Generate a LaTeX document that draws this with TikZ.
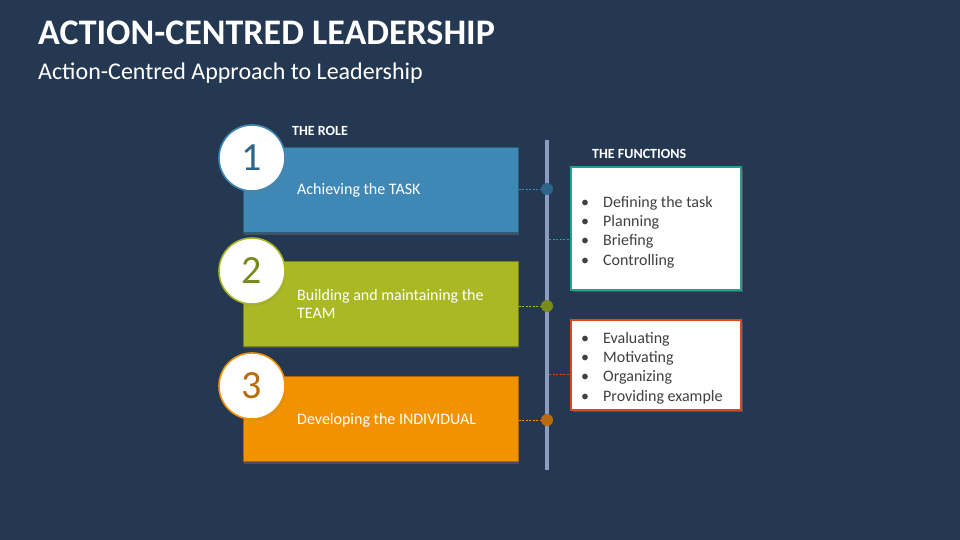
\documentclass[tikz,border=0pt]{standalone}
\usepackage{fontspec}
\setmainfont{Carlito}
\usetikzlibrary{shadows}
\definecolor{bg}{RGB}{37,56,82}
\definecolor{cblue}{RGB}{63,136,181}
\definecolor{cgreen}{RGB}{169,184,35}
\definecolor{corange}{RGB}{243,146,0}
\definecolor{nblue}{RGB}{45,100,138}
\definecolor{ngreen}{RGB}{122,138,28}
\definecolor{norange}{RGB}{184,108,12}
\definecolor{vline}{RGB}{138,157,192}
\definecolor{teal}{RGB}{31,163,138}
\definecolor{redor}{RGB}{224,70,28}
\definecolor{txtgray}{RGB}{64,64,64}
\tikzset{
  rolebox/.style={minimum width=275pt, minimum height=85pt, inner sep=0pt, draw=#1!70!black, line width=1pt, fill=#1, drop shadow={opacity=0.35, shadow xshift=1pt, shadow yshift=-2pt}},
  numcircle/.style={circle, minimum size=66pt, inner sep=0pt, fill=white, draw=#1, line width=1.6pt, font=\fontsize{40}{40}\selectfont, drop shadow={opacity=0.3, shadow xshift=1pt, shadow yshift=-1.5pt}},
  roletext/.style={text=white, inner sep=0pt, font=\fontsize{16}{18.5}\selectfont, anchor=west, align=left},
  dot/.style={circle, minimum size=12pt, inner sep=0pt, fill=#1},
  conn/.style={draw=#1, dashed, dash pattern=on 2pt off 1.5pt, line width=0.8pt},
  funcbox/.style={minimum width=170pt, inner sep=0pt, fill=white, draw=#1, line width=1.2pt, drop shadow={opacity=0.4, shadow xshift=2pt, shadow yshift=-2pt}},
  functext/.style={text=txtgray, inner sep=0pt, font=\fontsize{16}{19.3}\selectfont, anchor=north west, align=left},
  heading/.style={text=white, inner sep=0pt, font=\bfseries\fontsize{14}{14}\selectfont, anchor=base west}
}
\newcommand{\blt}{\makebox[22pt][l]{\textbullet}}
\begin{document}
\begin{tikzpicture}[x=1pt,y=-1pt]
\fill[bg] (0,0) rectangle (960,540);
\useasboundingbox (0,0) rectangle (960,540);

\node[anchor=base west, inner sep=0pt, text=white, font=\bfseries\fontsize{36}{36}\selectfont] (title) at (38,45) {ACTION-CENTRED LEADERSHIP};
\node[anchor=base west, inner sep=0pt, text=white, font=\fontsize{24}{24}\selectfont] (subtitle) at (38,80) {Action-Centred Approach to Leadership};

% role boxes
\node[rolebox=cblue] (b1) at (380.5,190) {};
\node[rolebox=cgreen] (b2) at (380.5,303.5) {};
\node[rolebox=corange] (b3) at (380.5,419) {};

\node[numcircle=cblue, text=nblue] (c1) at (252,158) {1};
\node[numcircle=cgreen, text=ngreen] (c2) at (252,271) {2};
\node[numcircle=corange, text=norange] (c3) at (252,386) {3};

\node[heading] (role) at (292,136) {THE ROLE};
\node[roletext] (t1) at (297,190) {Achieving the TASK};
\node[roletext] (t2) at (297,304) {Building and maintaining the\\TEAM};
\node[roletext] (t3) at (297,420) {Developing the INDIVIDUAL};

% vertical line
\coordinate (vtop) at (547,140);
\coordinate (vbot) at (547,470);
\draw[vline, line width=4pt] (vtop) -- (vbot);

\node[dot=nblue] (d1) at (547,189) {};
\node[dot=ngreen] (d2) at (547,306) {};
\node[dot=norange] (d3) at (547,420) {};

\draw[conn=cblue] (b1.east |- d1) -- (d1.west);
\draw[conn=cgreen] (b2.east |- d2) -- (d2.west);
\draw[conn=corange] (b3.east |- d3) -- (d3.west);

% function boxes
\node[heading] (func) at (592,159) {THE FUNCTIONS};
\node[funcbox=teal, minimum height=123pt] (f1) at (656,228.5) {};
\node[funcbox=redor, minimum height=90pt] (f2) at (656,365) {};

\node[functext] (l1) at (581,196) {\blt Defining the task\\\blt Planning\\\blt Briefing\\\blt Controlling};
\node[functext] (l2) at (581,332) {\blt Evaluating\\\blt Motivating\\\blt Organizing\\\blt Providing example};

\coordinate (v1) at (549,239);
\coordinate (v2) at (549,374);
\draw[conn=teal] (v1) -- (f1.west |- v1);
\draw[conn=redor] (v2) -- (f2.west |- v2);
\end{tikzpicture}
\end{document}
